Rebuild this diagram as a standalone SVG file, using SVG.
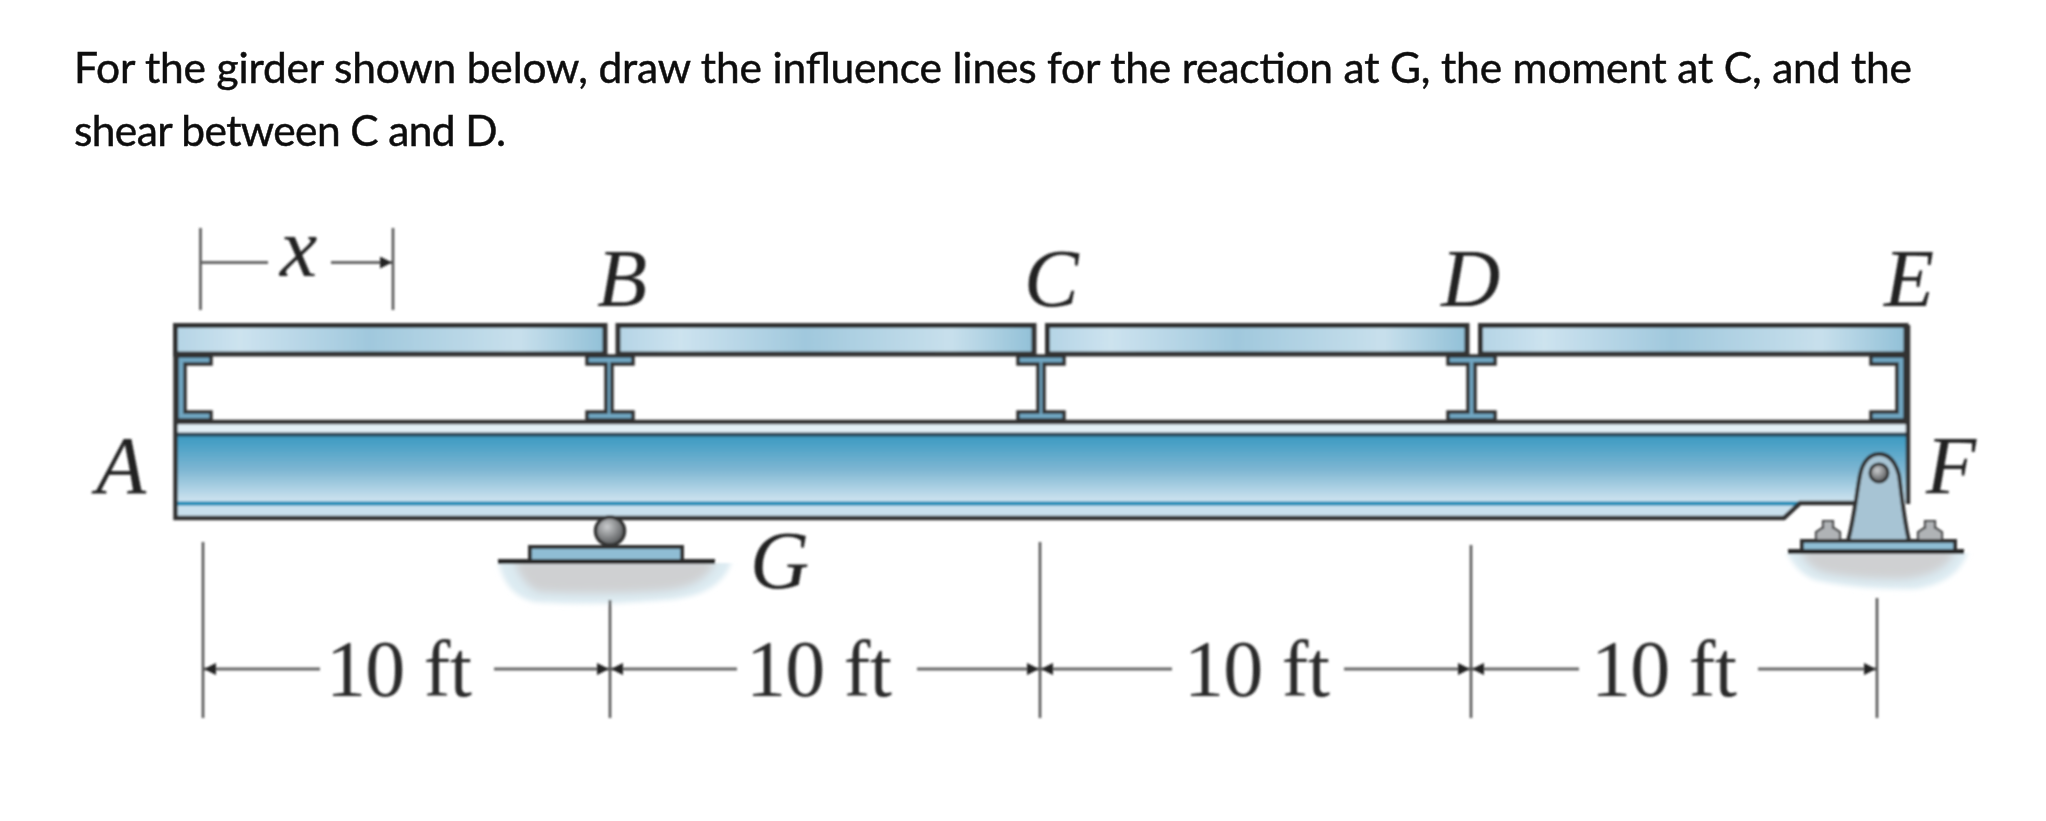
<svg xmlns="http://www.w3.org/2000/svg" width="2046" height="821" viewBox="0 0 2046 821">
<style>
.q{font-family:"Lato","Carlito","Liberation Sans",sans-serif;font-size:42.500px;fill:#111;stroke:#111;stroke-width:.5}
.l{font-family:"Liberation Serif","Times New Roman",serif;font-style:italic;font-size:82px;fill:#222}
.d{font-family:"Liberation Serif","Times New Roman",serif;font-size:80px;fill:#2a2a2a}
.k{stroke:#333;stroke-width:4.5;fill:none}
.s{stroke:#333;stroke-width:3.500;fill:#6fa6c2}
.t{stroke:#555;stroke-width:2.6;fill:none}
.a{stroke:#666;stroke-width:3;fill:none}
.p{fill:url(#plate);stroke:#333;stroke-width:5}
</style>
<defs>
<linearGradient id="plate" x1="0" x2="1" y1="0" y2="0">
<stop offset="0" stop-color="#b4d4e5"/><stop offset=".15" stop-color="#cde3ef"/><stop offset=".45" stop-color="#a0c8dd"/><stop offset=".8" stop-color="#c8e0ec"/><stop offset="1" stop-color="#91c0d7"/>
</linearGradient>
<linearGradient id="beam" gradientUnits="userSpaceOnUse" x1="0" x2="0" y1="436" y2="503">
<stop offset="0" stop-color="#3b9ac2"/><stop offset=".5" stop-color="#7db6d2"/><stop offset="1" stop-color="#d2e6f1"/>
</linearGradient>
<radialGradient id="ball" cx=".4" cy=".35" r=".7"><stop offset="0" stop-color="#c9cbcd"/><stop offset="1" stop-color="#4e5052"/></radialGradient>
<filter id="soft" x="-2%" y="-2%" width="104%" height="104%"><feGaussianBlur stdDeviation="0.9"/></filter>
<filter id="softq" x="-2%" y="-10%" width="104%" height="120%"><feGaussianBlur stdDeviation="0.5"/></filter>
<filter id="shade" x="-10%" y="-30%" width="120%" height="160%"><feGaussianBlur stdDeviation="4"/></filter>
<filter id="shade2" x="-10%" y="-30%" width="120%" height="160%"><feGaussianBlur stdDeviation="2.500"/></filter>
<clipPath id="cg"><rect x="480" y="563" width="270" height="50"/></clipPath>
<clipPath id="cf"><rect x="1770" y="553" width="220" height="50"/></clipPath>
<marker id="head" viewBox="0 0 10 10" refX="10" refY="5" markerUnits="userSpaceOnUse" markerWidth="19" markerHeight="12" orient="auto-start-reverse"><path d="M0 0L10 5L0 10Z" fill="#222"/></marker>
</defs>
<rect width="2046" height="821" fill="#fff"/>
<g id="question" filter="url(#softq)">
<text class="q" x="74" y="83" textLength="1838">For the girder shown below, draw the influence lines for the reaction at G, the moment at C, and the</text>
<text class="q" x="74" y="146" textLength="432">shear between C and D.</text>
</g>
<g id="diagram" filter="url(#soft)">
<g id="stringers">
<path class="s" d="M177 356H211V364H185V412H211V420H177Z"/>
<path class="s" d="M1905 356H1871V364H1897V412H1871V420H1905Z"/>
<g id="floorbeam-B"><path class="s" d="M587 356H633V364H612V412H633V420H587V412H606V364H587Z"/></g>
<g id="floorbeam-C"><path class="s" d="M1018 356H1064V364H1044V412H1064V420H1018V412H1038V364H1018Z"/></g>
<g id="floorbeam-D"><path class="s" d="M1448 356H1495V364H1475V412H1495V420H1448V412H1468V364H1448Z"/></g>
</g>
<g id="deck">
<path class="p" d="M175.500 325.500H605V354H175.500Z"/>
<path class="p" d="M618 325.500H1034V354H618Z"/>
<path class="p" d="M1047.500 325.500H1467V354H1047.500Z"/>
<path class="p" d="M1480.500 325.500H1906V354H1480.500Z"/>
</g>
<g id="girder">
<rect x="175" y="424" width="1731" height="10" fill="#e3f0f7"/>
<path d="M175 435H1906V503H1800L1784 518H175Z" fill="url(#beam)"/>
<path d="M175 505H1798L1784 517H175Z" fill="#c9e0ed"/>
<path d="M175 503.500H1799" stroke="#1c8cb6" stroke-width="4" fill="none"/>
<path d="M175 434.500H1906" stroke="#2c4a5a" stroke-width="4" fill="none"/>
<path class="k" d="M175.500 422H1908M175.500 325V518H1784L1800 503H1856M1908 325V504"/>
</g>
<g id="support-G">
<g clip-path="url(#cg)">
<path d="M498 560H732Q722 596 665 600Q600 606 535 602Q505 596 498 560Z" fill="#dcebf2" filter="url(#shade2)"/>
<path d="M514 560H716Q706 588 660 591Q600 595 540 592Q522 586 514 560Z" fill="#cfd0d2" filter="url(#shade)"/>
</g>
<ellipse cx="610" cy="531" rx="14.500" ry="14" fill="url(#ball)" stroke="#333" stroke-width="3.500"/>
<rect x="530" y="547" width="152" height="14" fill="#8fbdd4" stroke="#333" stroke-width="4"/>
<path d="M498 561.500H715" stroke="#2b2b2b" stroke-width="5"/>
</g>
<g id="support-F">
<g clip-path="url(#cf)">
<path d="M1786 550H1968Q1960 582 1915 589Q1860 590 1815 580Q1795 572 1786 550Z" fill="#dcebf2" filter="url(#shade2)"/>
<path d="M1800 550H1955Q1948 574 1905 579Q1860 580 1822 572Q1806 566 1800 550Z" fill="#cfd0d2" filter="url(#shade)"/>
</g>
<g fill="#b0b3b6" stroke="#444" stroke-width="2.200">
<path d="M1816 540V532L1822 528H1823V521H1833V528H1834L1840 532V540Z"/>
<path d="M1918 540V532L1924 528H1925V521H1935V528H1936L1942 532V540Z"/>
</g>
<path d="M1848 541C1855 515 1856 495 1860 475C1863 460 1871 454 1879 454C1888 454 1895 460 1899 475C1902 495 1903 515 1909 541Z" fill="#a7c4d4" stroke="#333" stroke-width="4"/>
<circle cx="1879" cy="473" r="9" fill="url(#ball)" stroke="#333" stroke-width="3"/>
<rect x="1802" y="541" width="153" height="10" fill="#8fbdd4" stroke="#333" stroke-width="4"/>
<path d="M1788 551.500H1964" stroke="#2b2b2b" stroke-width="5"/>
</g>
<g id="labels">
<text class="l" x="96" y="493">A</text>
<text class="l" x="597" y="306">B</text>
<text class="l" x="1024" y="306">C</text>
<text class="l" x="1441" y="306">D</text>
<text class="l" x="1884" y="306">E</text>
<text class="l" x="1926" y="493">F</text>
<text class="l" x="750" y="588">G</text>
<text class="l" x="280" y="276" style="font-size:84px">x</text>
</g>
<g id="dimensions">
<path class="t" d="M200.500 228V310M393 228V310"/>
<path class="a" d="M201 262.500H268"/>
<path class="a" d="M331 262.500H392" marker-end="url(#head)"/>
<path class="t" d="M203 542V718M610 600V718M1040 542V718M1471 545V718M1877 598V718"/>
<g id="dim-lines">
<path class="a" d="M320 669H204" marker-end="url(#head)"/>
<path class="a" d="M494 669H609" marker-end="url(#head)"/>
<path class="a" d="M737 669H611" marker-end="url(#head)"/>
<path class="a" d="M917 669H1039" marker-end="url(#head)"/>
<path class="a" d="M1172 669H1041" marker-end="url(#head)"/>
<path class="a" d="M1344 669H1470" marker-end="url(#head)"/>
<path class="a" d="M1579 669H1472" marker-end="url(#head)"/>
<path class="a" d="M1758 669H1876" marker-end="url(#head)"/>
</g>
<text class="d" x="326" y="696" textLength="146">10 ft</text>
<text class="d" x="746" y="696" textLength="146">10 ft</text>
<text class="d" x="1184" y="696" textLength="146">10 ft</text>
<text class="d" x="1591" y="696" textLength="146">10 ft</text>
</g>
</g>
</svg>
